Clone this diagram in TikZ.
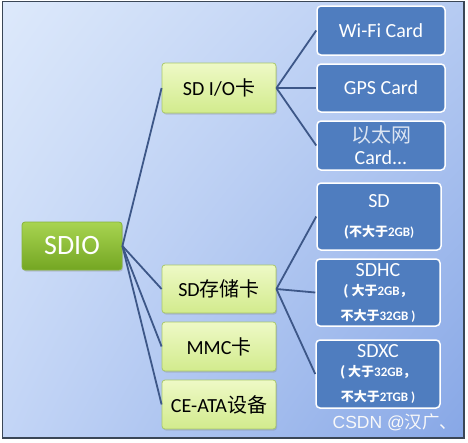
\documentclass[tikz,border=0pt]{standalone}
\usepackage{fontspec}
\setmainfont{Carlito}
\newfontfamily\cjk{Noto Sans CJK SC}
\newfontfamily\wmfont{Liberation Sans}
\newcommand{\hz}[1]{{\cjk #1}}
\newcommand{\sml}{\fontsize{13}{17}\selectfont\bfseries}
\usetikzlibrary{shapes,arrows,calc,positioning,shadows,shadings}

\definecolor{bgtl}{HTML}{DDE9FB}
\definecolor{bgtr}{HTML}{B6CBF2}
\definecolor{bgbl}{HTML}{C3D5F6}
\definecolor{bgbr}{HTML}{87A7E6}
\definecolor{framecol}{HTML}{3A4656}
\definecolor{roottop}{HTML}{A8D451}
\definecolor{rootbot}{HTML}{74A622}
\definecolor{rootline}{HTML}{86B33A}
\definecolor{midtop}{HTML}{EEF9C6}
\definecolor{midbot}{HTML}{D2EB8D}
\definecolor{midline}{HTML}{A9C86A}
\definecolor{cardblue}{HTML}{4F7DBF}
\definecolor{linkblue}{HTML}{3D5788}

\begin{document}
\begin{tikzpicture}[x=1pt,y=-1pt,
    root/.style={draw=rootline, line width=0.8pt, rounded corners=3pt,
        top color=roottop, bottom color=rootbot, text=white,
        minimum width=100pt, minimum height=48pt,
        font=\fontsize{28}{32}\selectfont,
        drop shadow={shadow xshift=1pt, shadow yshift=-1.5pt, opacity=0.3}},
    mid/.style={draw=midline, line width=0.8pt, rounded corners=3pt,
        top color=midtop, bottom color=midbot, text=black,
        minimum width=114pt, minimum height=48pt, inner sep=1pt,
        font=\fontsize{20}{24}\selectfont,
        drop shadow={shadow xshift=1pt, shadow yshift=-1.5pt, opacity=0.3}},
    card/.style={draw=white, line width=1.5pt, rounded corners=4pt,
        fill=cardblue, text=white, align=center,
        minimum width=128pt, minimum height=48pt, inner sep=1pt,
        font=\fontsize{20}{25}\selectfont},
    link/.style={draw=linkblue, line width=1.8pt}]

% background and frame
\useasboundingbox (0,0) rectangle (468,442);
\shade[upper left=bgtl, upper right=bgtr, lower left=bgbl, lower right=bgbr]
    (2.5,1.5) rectangle (464,438);
\draw[framecol, line width=1.5pt] (2.5,1.5) rectangle (464,438);

% nodes
\draw (72,246) node[root] (sdio) {SDIO};

\draw (219,88) node[mid, minimum height=50pt] (sdio_card) {SD I/O\hz{卡}};
\draw (219,289) node[mid] (storage) {SD\hz{存储卡}};
\draw (219,346.5) node[mid, minimum height=49pt] (mmc) {MMC\hz{卡}};
\draw (219,404.5) node[mid, minimum height=49pt] (ceata) {CE-ATA\hz{设备}};

\draw (381,30.5) node[card, minimum height=49pt] (wifi) {Wi-Fi Card};
\draw (381,88) node[card] (gps) {GPS Card};
\draw (381,145.5) node[card, minimum height=49pt] (ether)
    {\textcolor{white!80!cardblue}{\hz{以太网}}\\[-3pt]Card...};
\draw (379,216.5) node[card, minimum width=124pt, minimum height=67pt] (sd)
    {SD\\[4pt]\sml\hz{(不大于}2GB)};
\draw (378,292.5) node[card, minimum width=124pt, minimum height=67pt] (sdhc)
    {SDHC\\[-6pt]\sml\hz{( 大于}2GB\hz{，}\\\sml\hz{不大于}32GB )};
\draw (378,374) node[card, minimum width=124pt, minimum height=68pt] (sdxc)
    {SDXC\\[-6pt]\sml\hz{( 大于}32GB\hz{，}\\\sml\hz{不大于}2TGB )};

% watermark
\draw (395,422) node[text=white!95!gray, font=\wmfont\fontsize{17.5}{20}\selectfont]
    (mark) {CSDN @\hz{汉广、}};

% links
\path[link]
    (sdio.east) edge (sdio_card.west)
                edge (storage.west)
                edge (mmc.west)
                edge (ceata.west)
    (sdio_card.east) edge (wifi.west)
                     edge (gps.west)
                     edge (ether.west)
    (storage.east) edge (sd.west)
                   edge (sdhc.west)
                   edge (sdxc.west);
\end{tikzpicture}
\end{document}
